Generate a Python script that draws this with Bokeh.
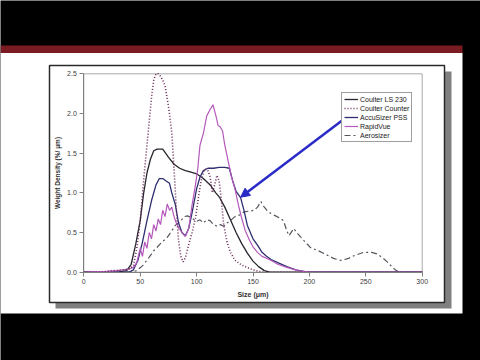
from bokeh.plotting import figure
from bokeh.models import (Arrow, NormalHead, Legend, LegendItem, LinearAxis,
                          FixedTicker, PrintfTickFormatter, Range1d)
from bokeh.embed import file_html
from bokeh.resources import INLINE

# ---------------- data ----------------
ls230_x = [0, 30, 38, 42, 46, 50, 53, 56, 59, 62, 65, 70, 75, 80, 85, 90, 95, 100, 106, 112,
           117, 120, 125, 130, 135, 140, 145, 150, 155, 160, 165, 300]
ls230_y = [0, 0.0, 0.02, 0.1, 0.35, 0.65, 0.99, 1.25, 1.42, 1.53, 1.55, 1.55, 1.45, 1.36, 1.31,
           1.28, 1.26, 1.24, 1.18, 1.1, 1.0, 0.95, 0.82, 0.66, 0.5, 0.36, 0.24, 0.14, 0.07, 0.02, 0, 0]

cc_x = [0, 15, 25, 35, 40, 44, 47, 50, 53, 56, 58, 60, 62, 64, 66, 68, 70, 72, 75, 78, 80, 82,
        84, 86, 88, 90, 93, 96, 99, 102, 104, 107, 110, 112, 114, 116, 118, 120, 122, 124, 127,
        130, 134, 140, 148, 155, 160, 300]
cc_y = [0, 0.0, 0.02, 0.03, 0.04, 0.08, 0.3, 0.65, 1.15, 1.6, 1.9, 2.2, 2.42, 2.5, 2.5, 2.47,
        2.42, 2.35, 2.1, 1.76, 1.3, 0.8, 0.4, 0.2, 0.13, 0.18, 0.35, 0.5, 0.68, 0.98, 1.15, 1.3,
        1.28, 1.2, 1.0, 1.1, 1.22, 1.15, 0.9, 0.6, 0.38, 0.25, 0.15, 0.09, 0.04, 0.01, 0, 0]

acc_x = [0, 40, 44, 48, 52, 56, 60, 64, 67, 70, 73, 76, 78, 81, 84, 87, 90, 93, 96, 100, 103,
         106, 110, 115, 120, 125, 129, 132, 135, 139, 142, 145, 150, 154, 158, 162, 166, 172,
         180, 188, 195, 200, 300]
acc_y = [0, 0.0, 0.03, 0.15, 0.38, 0.65, 0.9, 1.1, 1.18, 1.18, 1.15, 1.12, 1.0, 0.86, 0.62,
         0.5, 0.46, 0.55, 0.75, 1.05, 1.2, 1.28, 1.31, 1.31, 1.32, 1.32, 1.31, 1.15, 1.02, 0.94,
         0.78, 0.59, 0.42, 0.34, 0.25, 0.2, 0.16, 0.12, 0.07, 0.03, 0.01, 0, 0]

rv_x = [0, 20, 30, 40, 44, 47, 50, 52, 54, 56, 58, 60, 62, 64, 66, 68, 70, 72, 74, 76, 78, 80,
        82, 84, 87, 90, 93, 96, 99, 101, 103, 106, 109, 112, 114.5, 117, 119, 121, 123, 125, 128,
        131, 134, 137, 140, 143, 147, 150, 154, 158, 163, 167, 172, 180, 190, 200, 300]
rv_y = [0, 0.01, 0.02, 0.04, 0.06, 0.12, 0.3, 0.2, 0.38, 0.3, 0.5, 0.42, 0.6, 0.52, 0.67, 0.6,
        0.78, 0.7, 0.86, 0.78, 0.82, 0.7, 0.62, 0.56, 0.5, 0.45, 0.55, 0.85, 1.1, 1.3, 1.6, 1.75,
        1.97, 2.05, 2.11, 1.98, 1.85, 1.83, 1.78, 1.6, 1.4, 1.2, 1.05, 0.85, 0.68, 0.53, 0.4,
        0.32, 0.25, 0.2, 0.17, 0.14, 0.1, 0.06, 0.02, 0.0, 0]

aero_x = [0, 42, 47, 52, 57, 62, 68, 74, 78, 81, 84, 86, 89, 92, 96, 100, 103, 106, 109, 112,
          115, 118, 121, 124, 127, 130, 134, 138, 142, 147, 151, 154, 157, 160, 163, 166, 170,
          174, 177, 180, 182, 186, 190, 195, 201, 208, 215, 222, 228, 234, 240, 248, 255, 260,
          265, 269, 273, 277, 280, 300]
aero_y = [0, 0.0, 0.02, 0.08, 0.17, 0.27, 0.36, 0.44, 0.52, 0.59, 0.62, 0.65, 0.7, 0.71, 0.68,
          0.64, 0.66, 0.62, 0.66, 0.65, 0.6, 0.58, 0.6, 0.58, 0.62, 0.65, 0.7, 0.72, 0.76, 0.77,
          0.78, 0.82, 0.89, 0.82, 0.77, 0.74, 0.71, 0.68, 0.65, 0.52, 0.46, 0.55, 0.48, 0.4, 0.31,
          0.27, 0.22, 0.17, 0.15, 0.17, 0.21, 0.25, 0.25, 0.23, 0.18, 0.13, 0.07, 0.02, 0, 0]

series_names = ["Coulter LS 230", "Coulter Counter", "AccuSizer PSS", "RapidVue", "Aerosizer"]
x_ticks = [0, 50, 100, 150, 200, 250, 300]
y_ticks = [0.0, 0.5, 1.0, 1.5, 2.0, 2.5]
x_min, x_max = 0, 300
y_min, y_max = 0, 2.5
arrow_from = (229, 1.91)
arrow_to = (139, 0.945)

# ---------------- layout (pixels on the page) ----------------
W, H = 480, 360
PLOT_L, PLOT_R = 83.3, 421.7      # page x of data x_min / x_max
PLOT_B, PLOT_T = 271.7, 73.3      # page y of data y_min / y_max
SX = (PLOT_R - PLOT_L) / (x_max - x_min)
SY = (PLOT_B - PLOT_T) / (y_max - y_min)


def dx(px):
    return x_min + (px - PLOT_L) / SX


def dy(py):
    return y_min + (PLOT_B - py) / SY


FONT = "Liberation Sans"

p = figure(width=W, height=H, x_range=Range1d(dx(0), dx(W)), y_range=Range1d(dy(H), dy(0)),
           x_axis_location=None, y_axis_location=None, min_border=0,
           output_backend="svg", toolbar_location=None)
p.background_fill_color = "black"
p.border_fill_color = "black"
p.outline_line_color = None
p.grid.visible = False


def deco(l, t, r, b, fill, line=None, lw=1.0):
    p.quad(left=[dx(l)], right=[dx(r)], top=[dy(t)], bottom=[dy(b)],
           fill_color=fill, line_color=line, line_width=lw)


# slide decoration: red bar, white slide, picture shadow, picture frame
deco(0, 45, 462, 52.5, "#7a1b22")
deco(0, 52.5, 462, 313, "white")
deco(55, 71, 451, 308, "#808080")
deco(49, 65, 444, 302, "white", "#2a2a2a", 1.5)
# plot-area border (grey)
p.quad(left=[x_min], right=[x_max], bottom=[y_min], top=[y_max],
       fill_color=None, line_color="#a8a8a8", line_width=1)

# axes
xaxis = LinearAxis(fixed_location=y_min, bounds=(x_min, x_max))
yaxis = LinearAxis(fixed_location=x_min, bounds=(y_min, y_max))
p.add_layout(xaxis, "below")
p.add_layout(yaxis, "left")
for ax in (xaxis, yaxis):
    ax.axis_line_color = "#808080"
    ax.major_tick_line_color = "#808080"
    ax.major_tick_out = 4
    ax.major_tick_in = 0
    ax.minor_tick_line_color = None
    ax.major_label_text_font = FONT
    ax.major_label_text_font_size = "7px"
    ax.major_label_text_color = "#404040"
    ax.major_label_standoff = 3
    ax.axis_label_text_font = FONT
    ax.axis_label_text_font_style = "bold"
    ax.axis_label_text_color = "#303030"
    ax.axis_label_standoff = 3
xaxis.ticker = FixedTicker(ticks=x_ticks)
yaxis.ticker = FixedTicker(ticks=y_ticks)
yaxis.formatter = PrintfTickFormatter(format="%.1f")
xaxis.axis_label = "Size (\u03bcm)"
yaxis.axis_label = "Weight Density (%/ \u03bcm)"
xaxis.axis_label_text_font_size = "7px"
yaxis.axis_label_text_font_size = "6.5px"

r_aero = p.line(aero_x, aero_y, line_color="#55555f", line_width=1.2, line_dash="6 3 2 3")
r_ls = p.line(ls230_x, ls230_y, line_color="#26262e", line_width=1.3)
r_acc = p.line(acc_x, acc_y, line_color="#2e2e70", line_width=1.3)
r_rv = p.line(rv_x, rv_y, line_color="#b458bc", line_width=1.2)
r_cc = p.line(cc_x, cc_y, line_color="#6a2a58", line_width=1.6, line_dash="1 2")

legend = Legend(items=[LegendItem(label=series_names[0], renderers=[r_ls]),
                       LegendItem(label=series_names[1], renderers=[r_cc]),
                       LegendItem(label=series_names[2], renderers=[r_acc]),
                       LegendItem(label=series_names[3], renderers=[r_rv]),
                       LegendItem(label=series_names[4], renderers=[r_aero])],
                location=(341, H - 142), label_text_font=FONT, label_text_font_size="7px",
                label_text_color="#202020", glyph_height=8, glyph_width=14, label_height=8,
                spacing=1, padding=2, margin=0, label_standoff=2,
                border_line_color="#404040", border_line_width=1,
                background_fill_color="white", background_fill_alpha=1)
p.add_layout(legend)

p.add_layout(Arrow(end=NormalHead(size=9, fill_color="#2a2ac8", line_color="#2a2ac8"),
                   x_start=arrow_from[0], y_start=arrow_from[1],
                   x_end=arrow_to[0], y_end=arrow_to[1],
                   line_color="#2a2ac8", line_width=2.5))

open("out.html", "w").write(file_html(p, INLINE))
